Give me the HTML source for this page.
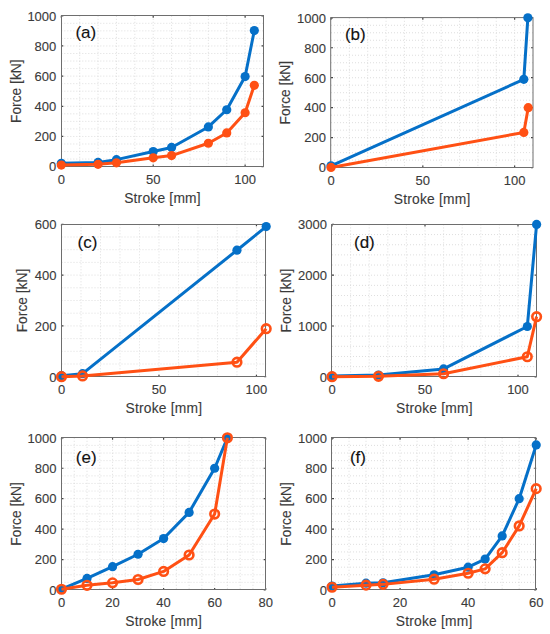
<!DOCTYPE html><html><head><meta charset="utf-8"><style>html,body{margin:0;padding:0;background:#fff;width:550px;height:634px;overflow:hidden}svg{display:block}text{font-family:"Liberation Sans",sans-serif;stroke-width:0.12px}</style></head><body>
<svg width="550" height="634" viewBox="0 0 550 634">
<rect width="550" height="634" fill="#fff"/>
<path d="M79.68 15.8V166.6M98.06 15.8V166.6M116.45 15.8V166.6M134.83 15.8V166.6M153.21 15.8V166.6M171.59 15.8V166.6M189.97 15.8V166.6M208.35 15.8V166.6M226.74 15.8V166.6M245.12 15.8V166.6M61.3 159.06H263.5M61.3 151.52H263.5M61.3 143.98H263.5M61.3 136.44H263.5M61.3 128.9H263.5M61.3 121.36H263.5M61.3 113.82H263.5M61.3 106.28H263.5M61.3 98.74H263.5M61.3 91.2H263.5M61.3 83.66H263.5M61.3 76.12H263.5M61.3 68.58H263.5M61.3 61.04H263.5M61.3 53.5H263.5M61.3 45.96H263.5M61.3 38.42H263.5M61.3 30.88H263.5M61.3 23.34H263.5" stroke="#d6d6d6" stroke-width="0.8" stroke-dasharray="1 2" fill="none"/>
<path d="M61.3 166.6v-2M61.3 15.8v2M153.21 166.6v-2M153.21 15.8v2M245.12 166.6v-2M245.12 15.8v2M61.3 166.6h2M263.5 166.6h-2M61.3 136.44h2M263.5 136.44h-2M61.3 106.28h2M263.5 106.28h-2M61.3 76.12h2M263.5 76.12h-2M61.3 45.96h2M263.5 45.96h-2M61.3 15.8h2M263.5 15.8h-2" stroke="#444" stroke-width="1.2" fill="none"/>
<rect x="61.5" y="15.5" width="202" height="151" fill="none" stroke="#6e6e6e" stroke-width="1"/>
<text x="61.3" y="183.8" font-size="13" fill="#3a3a3a" stroke="#3a3a3a" text-anchor="middle">0</text>
<text x="153.21" y="183.8" font-size="13" fill="#3a3a3a" stroke="#3a3a3a" text-anchor="middle">50</text>
<text x="245.12" y="183.8" font-size="13" fill="#3a3a3a" stroke="#3a3a3a" text-anchor="middle">100</text>
<text x="56.3" y="171.4" font-size="13" fill="#3a3a3a" stroke="#3a3a3a" text-anchor="end">0</text>
<text x="56.3" y="141.24" font-size="13" fill="#3a3a3a" stroke="#3a3a3a" text-anchor="end">200</text>
<text x="56.3" y="111.08" font-size="13" fill="#3a3a3a" stroke="#3a3a3a" text-anchor="end">400</text>
<text x="56.3" y="80.92" font-size="13" fill="#3a3a3a" stroke="#3a3a3a" text-anchor="end">600</text>
<text x="56.3" y="50.76" font-size="13" fill="#3a3a3a" stroke="#3a3a3a" text-anchor="end">800</text>
<text x="56.3" y="20.6" font-size="13" fill="#3a3a3a" stroke="#3a3a3a" text-anchor="end">1000</text>
<text x="162.4" y="202.8" font-size="13.8" fill="#3a3a3a" stroke="#3a3a3a" text-anchor="middle" textLength="76.5" lengthAdjust="spacing">Stroke [mm]</text>
<text x="0" y="0" font-size="13.8" fill="#3a3a3a" stroke="#3a3a3a" text-anchor="middle" transform="translate(20.5 91.2) rotate(-90)">Force [kN]</text>
<text x="75.4" y="38" font-size="17" fill="#111" stroke="#111">(a)</text>
<path d="M61.3 163.28 L98.06 162.38 L116.45 159.66 L153.21 151.52 L171.59 147.45 L208.35 126.94 L226.74 109.75 L245.12 76.57 L254.31 30.58" stroke="#0570C8" stroke-width="3" fill="none" stroke-linejoin="round"/>
<circle cx="61.3" cy="163.28" r="4.6" fill="#0570C8"/>
<circle cx="98.06" cy="162.38" r="4.6" fill="#0570C8"/>
<circle cx="116.45" cy="159.66" r="4.6" fill="#0570C8"/>
<circle cx="153.21" cy="151.52" r="4.6" fill="#0570C8"/>
<circle cx="171.59" cy="147.45" r="4.6" fill="#0570C8"/>
<circle cx="208.35" cy="126.94" r="4.6" fill="#0570C8"/>
<circle cx="226.74" cy="109.75" r="4.6" fill="#0570C8"/>
<circle cx="245.12" cy="76.57" r="4.6" fill="#0570C8"/>
<circle cx="254.31" cy="30.58" r="4.6" fill="#0570C8"/>
<path d="M61.3 165.09 L98.06 164.34 L116.45 162.83 L153.21 157.85 L171.59 155.59 L208.35 143.23 L226.74 132.97 L245.12 112.76 L254.31 85.32" stroke="#FF5014" stroke-width="3" fill="none" stroke-linejoin="round"/>
<circle cx="61.3" cy="165.09" r="4.6" fill="#FF5014"/>
<circle cx="98.06" cy="164.34" r="4.6" fill="#FF5014"/>
<circle cx="116.45" cy="162.83" r="4.6" fill="#FF5014"/>
<circle cx="153.21" cy="157.85" r="4.6" fill="#FF5014"/>
<circle cx="171.59" cy="155.59" r="4.6" fill="#FF5014"/>
<circle cx="208.35" cy="143.23" r="4.6" fill="#FF5014"/>
<circle cx="226.74" cy="132.97" r="4.6" fill="#FF5014"/>
<circle cx="245.12" cy="112.76" r="4.6" fill="#FF5014"/>
<circle cx="254.31" cy="85.32" r="4.6" fill="#FF5014"/>
<path d="M349.36 17.8V167.6M367.73 17.8V167.6M386.09 17.8V167.6M404.45 17.8V167.6M422.82 17.8V167.6M441.18 17.8V167.6M459.55 17.8V167.6M477.91 17.8V167.6M496.27 17.8V167.6M514.64 17.8V167.6M331 160.11H533M331 152.62H533M331 145.13H533M331 137.64H533M331 130.15H533M331 122.66H533M331 115.17H533M331 107.68H533M331 100.19H533M331 92.7H533M331 85.21H533M331 77.72H533M331 70.23H533M331 62.74H533M331 55.25H533M331 47.76H533M331 40.27H533M331 32.78H533M331 25.29H533" stroke="#d6d6d6" stroke-width="0.8" stroke-dasharray="1 2" fill="none"/>
<path d="M331 167.6v-2M331 17.8v2M422.82 167.6v-2M422.82 17.8v2M514.64 167.6v-2M514.64 17.8v2M331 167.6h2M533 167.6h-2M331 137.64h2M533 137.64h-2M331 107.68h2M533 107.68h-2M331 77.72h2M533 77.72h-2M331 47.76h2M533 47.76h-2M331 17.8h2M533 17.8h-2" stroke="#444" stroke-width="1.2" fill="none"/>
<rect x="330.7" y="17.6" width="202.3" height="149.9" fill="none" stroke="#6e6e6e" stroke-width="1"/>
<text x="331" y="184.8" font-size="13" fill="#3a3a3a" stroke="#3a3a3a" text-anchor="middle">0</text>
<text x="422.82" y="184.8" font-size="13" fill="#3a3a3a" stroke="#3a3a3a" text-anchor="middle">50</text>
<text x="514.64" y="184.8" font-size="13" fill="#3a3a3a" stroke="#3a3a3a" text-anchor="middle">100</text>
<text x="326" y="172.4" font-size="13" fill="#3a3a3a" stroke="#3a3a3a" text-anchor="end">0</text>
<text x="326" y="142.44" font-size="13" fill="#3a3a3a" stroke="#3a3a3a" text-anchor="end">200</text>
<text x="326" y="112.48" font-size="13" fill="#3a3a3a" stroke="#3a3a3a" text-anchor="end">400</text>
<text x="326" y="82.52" font-size="13" fill="#3a3a3a" stroke="#3a3a3a" text-anchor="end">600</text>
<text x="326" y="52.56" font-size="13" fill="#3a3a3a" stroke="#3a3a3a" text-anchor="end">800</text>
<text x="326" y="22.6" font-size="13" fill="#3a3a3a" stroke="#3a3a3a" text-anchor="end">1000</text>
<text x="432" y="203.8" font-size="13.8" fill="#3a3a3a" stroke="#3a3a3a" text-anchor="middle" textLength="76.5" lengthAdjust="spacing">Stroke [mm]</text>
<text x="0" y="0" font-size="13.8" fill="#3a3a3a" stroke="#3a3a3a" text-anchor="middle" transform="translate(290.2 92.7) rotate(-90)">Force [kN]</text>
<text x="344.9" y="39.8" font-size="17" fill="#111" stroke="#111">(b)</text>
<path d="M331 165.8 L523.82 79.37 L527.86 17.8" stroke="#0570C8" stroke-width="3" fill="none" stroke-linejoin="round"/>
<circle cx="331" cy="165.8" r="4.6" fill="#0570C8"/>
<circle cx="523.82" cy="79.37" r="4.6" fill="#0570C8"/>
<circle cx="527.86" cy="17.8" r="4.6" fill="#0570C8"/>
<path d="M331 167.45 L523.82 132.4 L528.23 107.68" stroke="#FF5014" stroke-width="3" fill="none" stroke-linejoin="round"/>
<circle cx="331" cy="167.45" r="4.6" fill="#FF5014"/>
<circle cx="523.82" cy="132.4" r="4.6" fill="#FF5014"/>
<circle cx="528.23" cy="107.68" r="4.6" fill="#FF5014"/>
<path d="M81 224.3V376.7M100.49 224.3V376.7M119.99 224.3V376.7M139.48 224.3V376.7M158.98 224.3V376.7M178.47 224.3V376.7M197.97 224.3V376.7M217.46 224.3V376.7M236.96 224.3V376.7M256.45 224.3V376.7M61.5 364H266.2M61.5 351.3H266.2M61.5 338.6H266.2M61.5 325.9H266.2M61.5 313.2H266.2M61.5 300.5H266.2M61.5 287.8H266.2M61.5 275.1H266.2M61.5 262.4H266.2M61.5 249.7H266.2M61.5 237H266.2" stroke="#d6d6d6" stroke-width="0.8" stroke-dasharray="1 2" fill="none"/>
<path d="M61.5 376.7v-2M61.5 224.3v2M158.98 376.7v-2M158.98 224.3v2M256.45 376.7v-2M256.45 224.3v2M61.5 376.7h2M266.2 376.7h-2M61.5 325.9h2M266.2 325.9h-2M61.5 275.1h2M266.2 275.1h-2M61.5 224.3h2M266.2 224.3h-2" stroke="#444" stroke-width="1.2" fill="none"/>
<rect x="61.5" y="224.5" width="204" height="152" fill="none" stroke="#6e6e6e" stroke-width="1"/>
<text x="61.5" y="393.9" font-size="13" fill="#3a3a3a" stroke="#3a3a3a" text-anchor="middle">0</text>
<text x="158.98" y="393.9" font-size="13" fill="#3a3a3a" stroke="#3a3a3a" text-anchor="middle">50</text>
<text x="256.45" y="393.9" font-size="13" fill="#3a3a3a" stroke="#3a3a3a" text-anchor="middle">100</text>
<text x="56.5" y="381.5" font-size="13" fill="#3a3a3a" stroke="#3a3a3a" text-anchor="end">0</text>
<text x="56.5" y="330.7" font-size="13" fill="#3a3a3a" stroke="#3a3a3a" text-anchor="end">200</text>
<text x="56.5" y="279.9" font-size="13" fill="#3a3a3a" stroke="#3a3a3a" text-anchor="end">400</text>
<text x="56.5" y="229.1" font-size="13" fill="#3a3a3a" stroke="#3a3a3a" text-anchor="end">600</text>
<text x="163.85" y="412.9" font-size="13.8" fill="#3a3a3a" stroke="#3a3a3a" text-anchor="middle" textLength="76.5" lengthAdjust="spacing">Stroke [mm]</text>
<text x="0" y="0" font-size="13.8" fill="#3a3a3a" stroke="#3a3a3a" text-anchor="middle" transform="translate(26.8 300.5) rotate(-90)">Force [kN]</text>
<text x="77.6" y="247.5" font-size="17" fill="#111" stroke="#111">(c)</text>
<path d="M61.5 375.68 L82.55 373.65 L236.96 250.21 L266.2 226.59" stroke="#0570C8" stroke-width="3" fill="none" stroke-linejoin="round"/>
<circle cx="61.5" cy="375.68" r="4.6" fill="#0570C8"/>
<circle cx="82.55" cy="373.65" r="4.6" fill="#0570C8"/>
<circle cx="236.96" cy="250.21" r="4.6" fill="#0570C8"/>
<circle cx="266.2" cy="226.59" r="4.6" fill="#0570C8"/>
<path d="M61.5 376.7 L82.55 375.94 L236.96 362.22 L266.2 328.69" stroke="#FF5014" stroke-width="3" fill="none" stroke-linejoin="round"/>
<circle cx="61.5" cy="376.7" r="4.3" fill="none" stroke="#FF5014" stroke-width="2.6"/>
<circle cx="82.55" cy="375.94" r="4.3" fill="none" stroke="#FF5014" stroke-width="2.6"/>
<circle cx="236.96" cy="362.22" r="4.3" fill="none" stroke="#FF5014" stroke-width="2.6"/>
<circle cx="266.2" cy="328.69" r="4.3" fill="none" stroke="#FF5014" stroke-width="2.6"/>
<path d="M350.6 224.4V376.8M369.2 224.4V376.8M387.8 224.4V376.8M406.4 224.4V376.8M425 224.4V376.8M443.6 224.4V376.8M462.2 224.4V376.8M480.8 224.4V376.8M499.4 224.4V376.8M518 224.4V376.8M332 366.64H536.6M332 356.48H536.6M332 346.32H536.6M332 336.16H536.6M332 326H536.6M332 315.84H536.6M332 305.68H536.6M332 295.52H536.6M332 285.36H536.6M332 275.2H536.6M332 265.04H536.6M332 254.88H536.6M332 244.72H536.6M332 234.56H536.6" stroke="#d6d6d6" stroke-width="0.8" stroke-dasharray="1 2" fill="none"/>
<path d="M332 376.8v-2M332 224.4v2M425 376.8v-2M425 224.4v2M518 376.8v-2M518 224.4v2M332 376.8h2M536.6 376.8h-2M332 326h2M536.6 326h-2M332 275.2h2M536.6 275.2h-2M332 224.4h2M536.6 224.4h-2" stroke="#444" stroke-width="1.2" fill="none"/>
<rect x="331.5" y="224.5" width="205" height="152" fill="none" stroke="#6e6e6e" stroke-width="1"/>
<text x="332" y="394" font-size="13" fill="#3a3a3a" stroke="#3a3a3a" text-anchor="middle">0</text>
<text x="425" y="394" font-size="13" fill="#3a3a3a" stroke="#3a3a3a" text-anchor="middle">50</text>
<text x="518" y="394" font-size="13" fill="#3a3a3a" stroke="#3a3a3a" text-anchor="middle">100</text>
<text x="327" y="381.6" font-size="13" fill="#3a3a3a" stroke="#3a3a3a" text-anchor="end">0</text>
<text x="327" y="330.8" font-size="13" fill="#3a3a3a" stroke="#3a3a3a" text-anchor="end">1000</text>
<text x="327" y="280" font-size="13" fill="#3a3a3a" stroke="#3a3a3a" text-anchor="end">2000</text>
<text x="327" y="229.2" font-size="13" fill="#3a3a3a" stroke="#3a3a3a" text-anchor="end">3000</text>
<text x="434.3" y="413" font-size="13.8" fill="#3a3a3a" stroke="#3a3a3a" text-anchor="middle" textLength="76.5" lengthAdjust="spacing">Stroke [mm]</text>
<text x="0" y="0" font-size="13.8" fill="#3a3a3a" stroke="#3a3a3a" text-anchor="middle" transform="translate(291.2 300.6) rotate(-90)">Force [kN]</text>
<text x="354" y="248.4" font-size="17" fill="#111" stroke="#111">(d)</text>
<path d="M332 376.04 L378.5 375.02 L443.6 368.93 L527.3 326.51 L536.6 224.4" stroke="#0570C8" stroke-width="3" fill="none" stroke-linejoin="round"/>
<circle cx="332" cy="376.04" r="4.6" fill="#0570C8"/>
<circle cx="378.5" cy="375.02" r="4.6" fill="#0570C8"/>
<circle cx="443.6" cy="368.93" r="4.6" fill="#0570C8"/>
<circle cx="527.3" cy="326.51" r="4.6" fill="#0570C8"/>
<circle cx="536.6" cy="224.4" r="4.6" fill="#0570C8"/>
<path d="M332 376.7 L378.5 376.29 L443.6 373.75 L527.3 356.73 L536.6 316.7" stroke="#FF5014" stroke-width="3" fill="none" stroke-linejoin="round"/>
<circle cx="332" cy="376.7" r="4.3" fill="none" stroke="#FF5014" stroke-width="2.6"/>
<circle cx="378.5" cy="376.29" r="4.3" fill="none" stroke="#FF5014" stroke-width="2.6"/>
<circle cx="443.6" cy="373.75" r="4.3" fill="none" stroke="#FF5014" stroke-width="2.6"/>
<circle cx="527.3" cy="356.73" r="4.3" fill="none" stroke="#FF5014" stroke-width="2.6"/>
<circle cx="536.6" cy="316.7" r="4.3" fill="none" stroke="#FF5014" stroke-width="2.6"/>
<path d="M74.26 437.8V590M87.03 437.8V590M99.79 437.8V590M112.55 437.8V590M125.31 437.8V590M138.07 437.8V590M150.84 437.8V590M163.6 437.8V590M176.36 437.8V590M189.12 437.8V590M201.89 437.8V590M214.65 437.8V590M227.41 437.8V590M240.17 437.8V590M252.94 437.8V590M61.5 582.39H265.7M61.5 574.78H265.7M61.5 567.17H265.7M61.5 559.56H265.7M61.5 551.95H265.7M61.5 544.34H265.7M61.5 536.73H265.7M61.5 529.12H265.7M61.5 521.51H265.7M61.5 513.9H265.7M61.5 506.29H265.7M61.5 498.68H265.7M61.5 491.07H265.7M61.5 483.46H265.7M61.5 475.85H265.7M61.5 468.24H265.7M61.5 460.63H265.7M61.5 453.02H265.7M61.5 445.41H265.7" stroke="#d6d6d6" stroke-width="0.8" stroke-dasharray="1 2" fill="none"/>
<path d="M61.5 590v-2M61.5 437.8v2M112.55 590v-2M112.55 437.8v2M163.6 590v-2M163.6 437.8v2M214.65 590v-2M214.65 437.8v2M265.7 590v-2M265.7 437.8v2M61.5 590h2M265.7 590h-2M61.5 559.56h2M265.7 559.56h-2M61.5 529.12h2M265.7 529.12h-2M61.5 498.68h2M265.7 498.68h-2M61.5 468.24h2M265.7 468.24h-2M61.5 437.8h2M265.7 437.8h-2" stroke="#444" stroke-width="1.2" fill="none"/>
<rect x="61.5" y="437.5" width="204" height="152" fill="none" stroke="#6e6e6e" stroke-width="1"/>
<text x="61.5" y="607.2" font-size="13" fill="#3a3a3a" stroke="#3a3a3a" text-anchor="middle">0</text>
<text x="112.55" y="607.2" font-size="13" fill="#3a3a3a" stroke="#3a3a3a" text-anchor="middle">20</text>
<text x="163.6" y="607.2" font-size="13" fill="#3a3a3a" stroke="#3a3a3a" text-anchor="middle">40</text>
<text x="214.65" y="607.2" font-size="13" fill="#3a3a3a" stroke="#3a3a3a" text-anchor="middle">60</text>
<text x="265.7" y="607.2" font-size="13" fill="#3a3a3a" stroke="#3a3a3a" text-anchor="middle">80</text>
<text x="56.5" y="594.8" font-size="13" fill="#3a3a3a" stroke="#3a3a3a" text-anchor="end">0</text>
<text x="56.5" y="564.36" font-size="13" fill="#3a3a3a" stroke="#3a3a3a" text-anchor="end">200</text>
<text x="56.5" y="533.92" font-size="13" fill="#3a3a3a" stroke="#3a3a3a" text-anchor="end">400</text>
<text x="56.5" y="503.48" font-size="13" fill="#3a3a3a" stroke="#3a3a3a" text-anchor="end">600</text>
<text x="56.5" y="473.04" font-size="13" fill="#3a3a3a" stroke="#3a3a3a" text-anchor="end">800</text>
<text x="56.5" y="442.6" font-size="13" fill="#3a3a3a" stroke="#3a3a3a" text-anchor="end">1000</text>
<text x="163.6" y="626.2" font-size="13.8" fill="#3a3a3a" stroke="#3a3a3a" text-anchor="middle" textLength="76.5" lengthAdjust="spacing">Stroke [mm]</text>
<text x="0" y="0" font-size="13.8" fill="#3a3a3a" stroke="#3a3a3a" text-anchor="middle" transform="translate(20.7 513.9) rotate(-90)">Force [kN]</text>
<text x="75.8" y="462.5" font-size="17" fill="#111" stroke="#111">(e)</text>
<path d="M61.5 589.24 L87.03 578.43 L112.55 566.71 L138.07 554.23 L163.6 538.56 L189.12 512.38 L214.65 468.24 L227.41 437.8" stroke="#0570C8" stroke-width="3" fill="none" stroke-linejoin="round"/>
<circle cx="61.5" cy="589.24" r="4.6" fill="#0570C8"/>
<circle cx="87.03" cy="578.43" r="4.6" fill="#0570C8"/>
<circle cx="112.55" cy="566.71" r="4.6" fill="#0570C8"/>
<circle cx="138.07" cy="554.23" r="4.6" fill="#0570C8"/>
<circle cx="163.6" cy="538.56" r="4.6" fill="#0570C8"/>
<circle cx="189.12" cy="512.38" r="4.6" fill="#0570C8"/>
<circle cx="214.65" cy="468.24" r="4.6" fill="#0570C8"/>
<circle cx="227.41" cy="437.8" r="4.6" fill="#0570C8"/>
<path d="M61.5 589.24 L87.03 585.28 L112.55 582.85 L138.07 579.5 L163.6 571.43 L189.12 554.99 L214.65 514.05 L227.41 437.8" stroke="#FF5014" stroke-width="3" fill="none" stroke-linejoin="round"/>
<circle cx="61.5" cy="589.24" r="4.3" fill="none" stroke="#FF5014" stroke-width="2.6"/>
<circle cx="87.03" cy="585.28" r="4.3" fill="none" stroke="#FF5014" stroke-width="2.6"/>
<circle cx="112.55" cy="582.85" r="4.3" fill="none" stroke="#FF5014" stroke-width="2.6"/>
<circle cx="138.07" cy="579.5" r="4.3" fill="none" stroke="#FF5014" stroke-width="2.6"/>
<circle cx="163.6" cy="571.43" r="4.3" fill="none" stroke="#FF5014" stroke-width="2.6"/>
<circle cx="189.12" cy="554.99" r="4.3" fill="none" stroke="#FF5014" stroke-width="2.6"/>
<circle cx="214.65" cy="514.05" r="4.3" fill="none" stroke="#FF5014" stroke-width="2.6"/>
<circle cx="227.41" cy="437.8" r="4.3" fill="none" stroke="#FF5014" stroke-width="2.6"/>
<path d="M349.02 437.8V590M366.03 437.8V590M383.05 437.8V590M400.07 437.8V590M417.08 437.8V590M434.1 437.8V590M451.12 437.8V590M468.13 437.8V590M485.15 437.8V590M502.17 437.8V590M519.18 437.8V590M332 582.39H536.2M332 574.78H536.2M332 567.17H536.2M332 559.56H536.2M332 551.95H536.2M332 544.34H536.2M332 536.73H536.2M332 529.12H536.2M332 521.51H536.2M332 513.9H536.2M332 506.29H536.2M332 498.68H536.2M332 491.07H536.2M332 483.46H536.2M332 475.85H536.2M332 468.24H536.2M332 460.63H536.2M332 453.02H536.2M332 445.41H536.2" stroke="#d6d6d6" stroke-width="0.8" stroke-dasharray="1 2" fill="none"/>
<path d="M332 590v-2M332 437.8v2M400.07 590v-2M400.07 437.8v2M468.13 590v-2M468.13 437.8v2M536.2 590v-2M536.2 437.8v2M332 590h2M536.2 590h-2M332 559.56h2M536.2 559.56h-2M332 529.12h2M536.2 529.12h-2M332 498.68h2M536.2 498.68h-2M332 468.24h2M536.2 468.24h-2M332 437.8h2M536.2 437.8h-2" stroke="#444" stroke-width="1.2" fill="none"/>
<rect x="331.5" y="437.5" width="204" height="152" fill="none" stroke="#6e6e6e" stroke-width="1"/>
<text x="332" y="607.2" font-size="13" fill="#3a3a3a" stroke="#3a3a3a" text-anchor="middle">0</text>
<text x="400.07" y="607.2" font-size="13" fill="#3a3a3a" stroke="#3a3a3a" text-anchor="middle">20</text>
<text x="468.13" y="607.2" font-size="13" fill="#3a3a3a" stroke="#3a3a3a" text-anchor="middle">40</text>
<text x="536.2" y="607.2" font-size="13" fill="#3a3a3a" stroke="#3a3a3a" text-anchor="middle">60</text>
<text x="327" y="594.8" font-size="13" fill="#3a3a3a" stroke="#3a3a3a" text-anchor="end">0</text>
<text x="327" y="564.36" font-size="13" fill="#3a3a3a" stroke="#3a3a3a" text-anchor="end">200</text>
<text x="327" y="533.92" font-size="13" fill="#3a3a3a" stroke="#3a3a3a" text-anchor="end">400</text>
<text x="327" y="503.48" font-size="13" fill="#3a3a3a" stroke="#3a3a3a" text-anchor="end">600</text>
<text x="327" y="473.04" font-size="13" fill="#3a3a3a" stroke="#3a3a3a" text-anchor="end">800</text>
<text x="327" y="442.6" font-size="13" fill="#3a3a3a" stroke="#3a3a3a" text-anchor="end">1000</text>
<text x="434.1" y="626.2" font-size="13.8" fill="#3a3a3a" stroke="#3a3a3a" text-anchor="middle" textLength="76.5" lengthAdjust="spacing">Stroke [mm]</text>
<text x="0" y="0" font-size="13.8" fill="#3a3a3a" stroke="#3a3a3a" text-anchor="middle" transform="translate(291.2 513.9) rotate(-90)">Force [kN]</text>
<text x="349.9" y="463" font-size="17" fill="#111" stroke="#111">(f)</text>
<path d="M332 586.04 L366.03 583.15 L383.05 582.85 L434.1 574.78 L468.13 567.17 L485.15 559.1 L502.17 535.97 L519.18 498.68 L536.2 444.95" stroke="#0570C8" stroke-width="3" fill="none" stroke-linejoin="round"/>
<circle cx="332" cy="586.04" r="4.6" fill="#0570C8"/>
<circle cx="366.03" cy="583.15" r="4.6" fill="#0570C8"/>
<circle cx="383.05" cy="582.85" r="4.6" fill="#0570C8"/>
<circle cx="434.1" cy="574.78" r="4.6" fill="#0570C8"/>
<circle cx="468.13" cy="567.17" r="4.6" fill="#0570C8"/>
<circle cx="485.15" cy="559.1" r="4.6" fill="#0570C8"/>
<circle cx="502.17" cy="535.97" r="4.6" fill="#0570C8"/>
<circle cx="519.18" cy="498.68" r="4.6" fill="#0570C8"/>
<circle cx="536.2" cy="444.95" r="4.6" fill="#0570C8"/>
<path d="M332 587.26 L366.03 585.13 L383.05 584.37 L434.1 579.19 L468.13 573.26 L485.15 568.84 L502.17 552.71 L519.18 525.92 L536.2 488.63" stroke="#FF5014" stroke-width="3" fill="none" stroke-linejoin="round"/>
<circle cx="332" cy="587.26" r="4.3" fill="none" stroke="#FF5014" stroke-width="2.6"/>
<circle cx="366.03" cy="585.13" r="4.3" fill="none" stroke="#FF5014" stroke-width="2.6"/>
<circle cx="383.05" cy="584.37" r="4.3" fill="none" stroke="#FF5014" stroke-width="2.6"/>
<circle cx="434.1" cy="579.19" r="4.3" fill="none" stroke="#FF5014" stroke-width="2.6"/>
<circle cx="468.13" cy="573.26" r="4.3" fill="none" stroke="#FF5014" stroke-width="2.6"/>
<circle cx="485.15" cy="568.84" r="4.3" fill="none" stroke="#FF5014" stroke-width="2.6"/>
<circle cx="502.17" cy="552.71" r="4.3" fill="none" stroke="#FF5014" stroke-width="2.6"/>
<circle cx="519.18" cy="525.92" r="4.3" fill="none" stroke="#FF5014" stroke-width="2.6"/>
<circle cx="536.2" cy="488.63" r="4.3" fill="none" stroke="#FF5014" stroke-width="2.6"/>
</svg></body></html>
